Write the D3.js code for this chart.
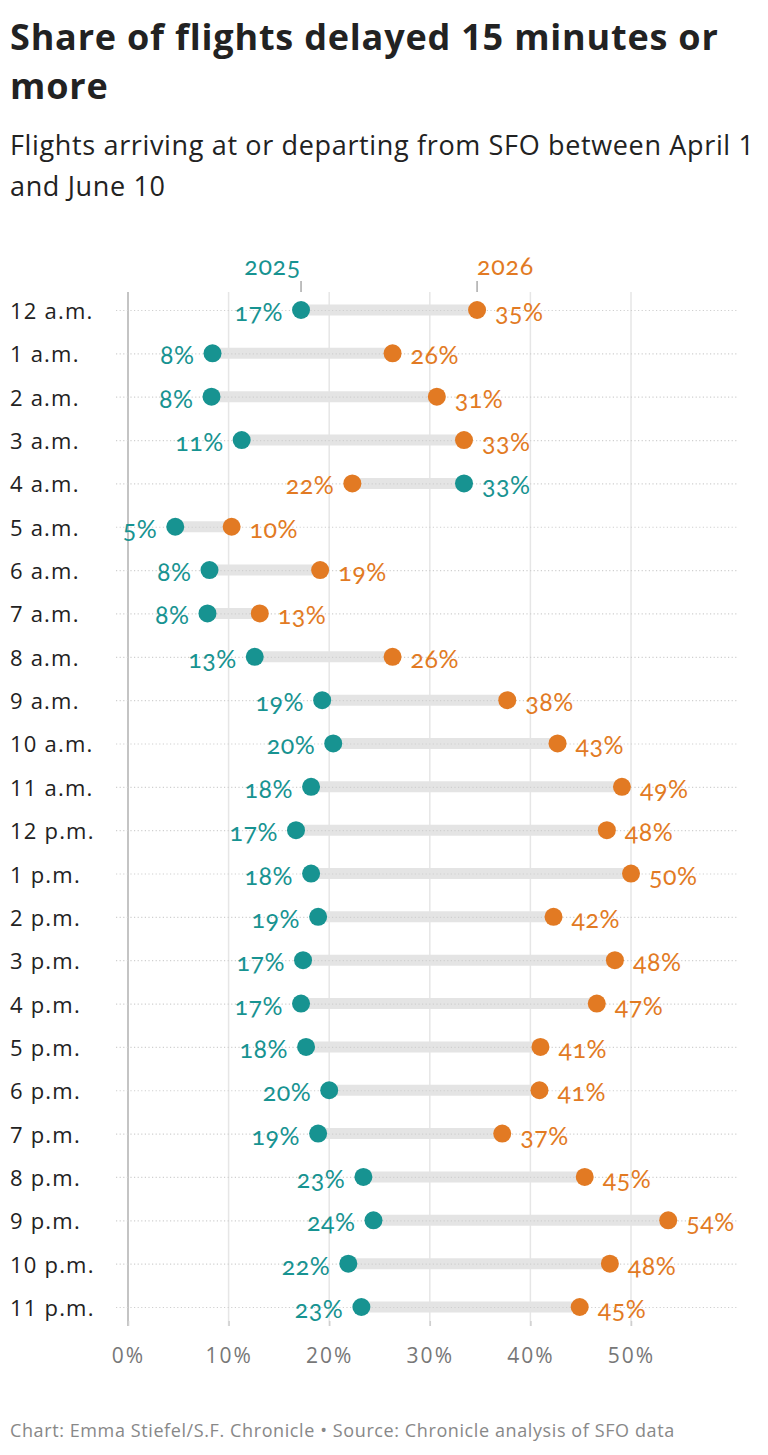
<!DOCTYPE html>
<html>
<head>
<meta charset="utf-8">
<script src="https://cdn.jsdelivr.net/npm/d3@7"></script>
<style>
  html, body { margin: 0; padding: 0; background: #fff; }
  svg { display: block; }
</style>
</head>
<body>
<svg id="chart" width="768" height="1455"></svg>
<script>
const hours = ["12 a.m.","1 a.m.","2 a.m.","3 a.m.","4 a.m.","5 a.m.","6 a.m.","7 a.m.","8 a.m.","9 a.m.","10 a.m.","11 a.m.",
  "12 p.m.","1 p.m.","2 p.m.","3 p.m.","4 p.m.","5 p.m.","6 p.m.","7 p.m.","8 p.m.","9 p.m.","10 p.m.","11 p.m."];
const values2025 = [17.2, 8.4, 8.3, 11.3, 33.4, 4.7, 8.1, 7.9, 12.6, 19.3, 20.4, 18.2,
  16.7, 18.2, 18.9, 17.4, 17.2, 17.7, 20.0, 18.9, 23.4, 24.4, 21.9, 23.2];
const values2026 = [34.7, 26.3, 30.7, 33.4, 22.3, 10.3, 19.1, 13.1, 26.3, 37.7, 42.7, 49.1,
  47.6, 50.0, 42.3, 48.4, 46.6, 41.0, 40.9, 37.2, 45.4, 53.7, 47.9, 44.9];
const xTicks = [0, 10, 20, 30, 40, 50];
const seriesNames = ["2025", "2026"];

const title = ["Share of flights delayed 15 minutes or", "more"];
const subtitle = ["Flights arriving at or departing from SFO between April 1", "and June 10"];
const credit = "Chart: Emma Stiefel/S.F. Chronicle \u2022 Source: Chronicle analysis of SFO data";

const teal = "#179391";
const orange = "#e27a23";
const labelFont = "Lato, 'Noto Sans', sans-serif";
const textFont = "'Open Sans', Roboto, sans-serif";

const svg = d3.select("#chart");

// Title
svg.append("text")
  .attr("x", 10).attr("y", 50)
  .attr("font-family", textFont)
  .attr("font-weight", 700)
  .attr("font-size", 36)
  .attr("letter-spacing", 0.8)
  .attr("fill", "#222")
  .selectAll("tspan").data(title).join("tspan")
  .attr("x", 10).attr("dy", (d, i) => i === 0 ? 0 : 49)
  .text(d => d);

svg.append("text")
  .attr("x", 10).attr("y", 155)
  .attr("font-family", textFont)
  .attr("font-size", 27)
  .attr("letter-spacing", 0.65)
  .attr("fill", "#222")
  .selectAll("tspan").data(subtitle).join("tspan")
  .attr("x", 10).attr("dy", (d, i) => i === 0 ? 0 : 41)
  .text(d => d);

const x = d3.scaleLinear().domain([0, 50]).range([128, 631]);
const y = d3.scalePoint().domain(hours).range([310, 1307]);

const rows = hours.map((h, i) => ({ h, a: values2025[i], b: values2026[i] }));

// vertical gridlines
svg.append("g").selectAll("line").data(xTicks).join("line")
  .attr("x1", d => x(d)).attr("x2", d => x(d))
  .attr("y1", 292).attr("y2", 1326)
  .attr("stroke", d => d === 0 ? "#c4c4c4" : "#e6e6e6")
  .attr("stroke-width", d => d === 0 ? 2 : 1.5);

// connector bars
svg.append("g").selectAll("line").data(rows).join("line")
  .attr("x1", d => x(d.a)).attr("x2", d => x(d.b))
  .attr("y1", d => y(d.h)).attr("y2", d => y(d.h))
  .attr("stroke", "#e4e4e4")
  .attr("stroke-width", 11);

// dotted row lines
svg.append("g").selectAll("line").data(rows).join("line")
  .attr("x1", 116).attr("x2", 737)
  .attr("y1", d => y(d.h) + 0.5).attr("y2", d => y(d.h) + 0.5)
  .attr("stroke", "#cfcfcf")
  .attr("stroke-width", 1.2)
  .attr("stroke-dasharray", "1.2,2.4");

// category labels
svg.append("g").selectAll("text").data(rows).join("text")
  .attr("x", 10).attr("y", d => y(d.h) + 9)
  .attr("font-family", textFont)
  .attr("font-size", 22)
  .attr("letter-spacing", 1.2)
  .attr("fill", "#222")
  .text(d => d.h);

// dots
const dots = svg.append("g");
dots.selectAll("circle.a").data(rows).join("circle").attr("class", "a")
  .attr("cx", d => x(d.a)).attr("cy", d => y(d.h)).attr("r", 9).attr("fill", teal);
dots.selectAll("circle.b").data(rows).join("circle").attr("class", "b")
  .attr("cx", d => x(d.b)).attr("cy", d => y(d.h)).attr("r", 9).attr("fill", orange);

// value labels
const fmt = v => d3.format(".0f")(v) + "%";
const lab = svg.append("g")
  .attr("font-family", labelFont)
  .attr("font-size", 25)
  .attr("letter-spacing", 0.5)
  .style("font-variant-numeric", "oldstyle-nums");
lab.selectAll("text.a").data(rows).join("text").attr("class", "a")
  .attr("x", d => d.a <= d.b ? x(d.a) - 18 : x(d.a) + 18)
  .attr("y", d => y(d.h) + 11)
  .attr("text-anchor", d => d.a <= d.b ? "end" : "start")
  .attr("fill", teal)
  .text(d => fmt(d.a));
lab.selectAll("text.b").data(rows).join("text").attr("class", "b")
  .attr("x", d => d.b >= d.a ? x(d.b) + 18 : x(d.b) - 18)
  .attr("y", d => y(d.h) + 11)
  .attr("text-anchor", d => d.b >= d.a ? "start" : "end")
  .attr("fill", orange)
  .text(d => fmt(d.b));

// series year labels on first row
const first = rows[0];
const yr = svg.append("g").attr("font-family", labelFont).attr("font-size", 25)
  .attr("letter-spacing", 0.7)
  .style("font-variant-numeric", "oldstyle-nums");
yr.append("line").attr("x1", x(first.a)).attr("x2", x(first.a)).attr("y1", 281).attr("y2", 292)
  .attr("stroke", "#aaa").attr("stroke-width", 1.5);
yr.append("line").attr("x1", x(first.b)).attr("x2", x(first.b)).attr("y1", 281).attr("y2", 292)
  .attr("stroke", "#aaa").attr("stroke-width", 1.5);
yr.append("text").attr("x", x(first.a)).attr("y", 275).attr("text-anchor", "end")
  .attr("fill", teal).text(seriesNames[0]);
yr.append("text").attr("x", x(first.b)).attr("y", 275).attr("text-anchor", "start")
  .attr("fill", orange).text(seriesNames[1]);

// bottom axis
const axis = svg.append("g").attr("transform", "translate(0,1321)")
  .call(d3.axisBottom(x).tickValues(xTicks).tickFormat(d => d + "%").tickSize(5).tickPadding(22));
axis.select(".domain").remove();
axis.selectAll(".tick line").attr("stroke", "#cfcfcf").attr("stroke-width", 1.5);
axis.selectAll(".tick text").attr("font-family", textFont).attr("font-size", 21)
  .attr("letter-spacing", 2).attr("fill", "#777");

// credit
svg.append("text").attr("x", 10).attr("y", 1437)
  .attr("font-family", textFont).attr("font-size", 18).attr("letter-spacing", 0.6).attr("fill", "#888")
  .text(credit);
</script>
</body>
</html>
